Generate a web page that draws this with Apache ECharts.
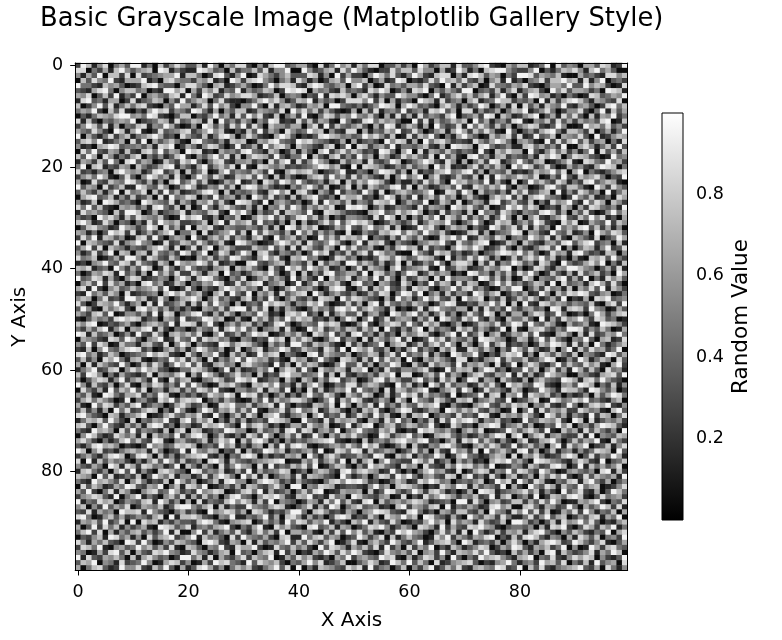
<!DOCTYPE html>
<html><head><meta charset="utf-8">
<script src="https://cdn.jsdelivr.net/npm/echarts@6/dist/echarts.min.js"></script>
<style>html,body{margin:0;padding:0;background:#fff}#c{width:782px;height:640px}</style>
</head><body><div id="c"></div>
<script>
// Grey levels, one row per string (row 0 = top), one digit per column: 0 = black ... 9 = white.
// NOTE: the reference is a 100x100 random-noise image at about 5 px per cell. These digits were NOT
// transcribed cell by cell from it. They are hand-typed estimates that only copy its overall texture and
// value spread; individual cells do not match the reference pixels.
const gridRows = [
"2971580463 9914072586 3371950648 8205179934 6620814957 1748803362 5096247718 3358921064 7712490835 4066387129",
"8804261795 3567098142 1198634072 4473815590 0952367184 9631022847 7385506129 6140789953 2259031476 8517946300",
"5163907728 0823456691 7740289315 9018642573 3387150926 2205974831 4962178805 1897365042 9983654710 0634218857",
"0738549216 6691307854 4265813097 2789530461 8514026739 5570361298 0213849674 8326057191 3045827796 7181590342",
"9442175630 1278943305 8853067124 6301495887 2179843560 7926018453 6648320917 2570184436 5821036649 3395762018",
"3216894057 7450219968 0627581439 1534760298 9806452173 4318697025 1879053642 9903427158 1467209583 6652409871",
"6580372914 2905643781 9419723856 8861237045 4032918786 0684153397 5520491368 4736815920 7298561304 2018734659",
"1893416602 8134760529 3576048211 0247968513 7691534028 8859270614 3097618245 0681349772 4350917268 9741653280",
"7025938147 4782105396 6148395720 5593081674 1265709943 2413598706 9734206851 5249703618 0836175492 1563028947",
"4659207381 0316978254 2984160537 7126543809 5847263101 6072814539 2451879360 8815236047 6913584025 5820491736",
"0314765899 5649821037 7032594618 3958217046 2910487365 9547306182 6183542790 3462980751 2579036184 8307165924",
"8172043565 9023476183 4761809352 6405398121 8372651094 1289475630 0928163475 7093614528 9105472836 2645389017",
"2597381604 3781549620 1509736284 9284075536 6058192743 5730629814 7516094238 1948527360 4687213950 0196748352",
"6438520971 6910283457 8246957103 1739264085 3496705218 8061437592 3840257169 6274851093 0352689417 7528036149",
"9063148257 1457962308 5327148960 4852106973 0213897645 3496852701 8275930416 9530174682 8129347065 4830912576",
"3785912460 8290635741 0894325176 7016589432 9785431260 6134209587 1609478523 2185369740 5641092837 9372560418",
"5120679834 4536187902 6415873029 2361947850 7542168039 0872563914 4357216098 7608942351 1784635290 0685147293",
"0849326517 2178493650 9781206453 8943175026 1630792584 7523198406 9081653742 4319207586 6093158472 5149083627",
"7396085142 6804251379 2053694817 0587629314 4907316825 2946075138 5742809361 0893516724 3251869704 8763201945",
"1652739408 9365017428 6930478215 5624083791 8259640173 5618324970 2469731850 6047298135 9426701358 1087439562",
"4907813265 0742368915 3169257480 9108754623 2346985710 9087641253 7356094812 1582637409 5972483016 3521698704",
"8231450796 5613892470 7248016935 4375291068 6784023591 1430598726 0813267945 8926054371 2137569480 6904213578",
"2574961038 3059746182 0496385127 6839407152 0157839462 8364217059 4690582137 3270819645 8648015293 1756840329",
"6018327549 8426150793 5837102649 1250863974 9423516807 3759862041 1528473096 7453916208 0395742861 4289357610",
"9365082471 1974385026 9612548370 7984631205 3695270148 0617534892 8074125639 2186475930 6501389427 7410962853",
"3742615908 4580729361 2358960714 3462179580 7830641925 4295180367 5346901872 9607342518 4823670915 2863509147",
"0689347152 7236081945 8704293561 5096382417 1579324086 6823049715 2915738460 4731058692 7168954302 9537124086",
"5127098634 2097543816 4165837209 8731905642 4028195637 1542876903 6439027518 0365189247 3270418569 3194860752",
"8493721065 6351894270 7029416853 2617054839 6264758019 8970361254 3182654097 5842701396 9486023175 0628743519",
"1856430729 9702613458 1543782096 9405238176 5391087642 2106793485 7960318254 1709452863 1543897260 6382015947",
"4230968517 3865472019 6892150437 0158693724 8947260315 5431829706 0527491863 8263714950 7058214693 2749581306",
"7961285043 0418396572 2347069185 6829341507 0612584937 9785013642 4814765930 3594028671 4639721085 8016439275",
"0378541296 5249708361 9076821543 3542617098 3758012649 3269458170 1296830475 6042197358 2817350946 4893726150",
"6514039782 8136257904 4708135692 7093854261 9472635108 0153276894 8639547201 2781603459 8065219437 1250964873",
"2849176350 1782930465 0931574826 4168209357 2501947386 7590431628 5372018694 9127538604 5396481720 7531802496",
"9076432815 6954018237 6385247109 8530126974 7184359620 4917682053 2045769318 4368901275 0742156389 3689245071",
"3692807541 4325796180 3816905742 2275493618 1863275094 8346105279 6718243059 7596124830 6214783905 0476159238",
"5138259076 0671843529 7259038614 9607831542 5039681427 2682974510 0953186724 1250347986 9473028561 8942317605",
"8457013629 9518632740 1064725398 4316958207 6945102873 5021387496 3487620915 3849615027 2685947130 5107683942",
"1205694387 2843175096 5697381240 0893246715 4270836519 9475261380 7125394068 8607281549 7351862094 2368590417",
"7681340952 6397028415 9423156807 5742083196 8396471250 3817540692 4568109237 6123754890 4028731659 9754036281",
"4026587193 5160947382 2851670934 1367594028 0715289346 6290873514 9813746502 0984516372 8594027316 1835724096",
"9348716205 8712354069 6179842053 8025736419 2631907458 1563928407 2376081945 5419837260 1860543792 6290418573",
"0573928461 3089461275 0436597128 3689145702 9148365720 7934065218 5042937618 2760159483 5247619083 4517962830",
"6819205734 7456839102 8304216975 7451830269 4563027981 0481759326 1867204593 7835201649 9036284517 0648391752",
"2194637508 1234507968 3572068194 2906471835 7809514632 5126387049 8390461725 4197368025 3612950748 7983256014",
"5760482319 9571284036 7960483521 6815293047 3251876094 8753206194 6149583270 9568042713 7485136290 2160879345",
"8302765941 4608192357 1728395406 0342968751 5486930127 2607918435 3754026981 1326594807 0921874653 5437106829",
"3951074682 0895736241 4106537289 9273805164 1037452896 9368541702 0281795436 6071835294 2563409817 8729540163",
"6427839015 5362918704 5893162740 4539612078 6924081573 3815620974 7936148250 3842970516 6158723940 1304962578",
"1036452897 8713406529 2349857016 1084726395 8672315049 7049138256 5163809742 8593162074 4730916285 6952873401",
"7589013246 2046753918 8715920463 6725138940 2543968710 1592046873 9428571036 0137648259 8294375106 3461098752",
"4263791580 6589172043 0264381795 9360457182 0195824637 6274809315 2690735418 5726413908 1067842539 9825374016",
"9817346025 1932840675 7481059236 2597801364 7308649251 8935162407 4587203691 9248057136 5839210674 0718236594",
"0654218739 7305691284 3928674510 5413296807 4861037925 4081753692 8013958264 3619875402 7615938420 5493067128",
"5392860174 4167328059 6053219847 8742063519 9427563108 2613490578 1372684950 7405926813 2402759861 8260941357",
"2170594368 9824015736 1597436028 0368145972 3754186290 9758326041 6925307481 1863740529 6384127059 1738562490",
"8946137502 3459687210 8416592073 6129578043 1089275436 0347615829 3548162097 4592031687 9150863742 7054219836",
"3725086941 6710243958 2740815369 3975624108 5613942087 5172938460 9206475318 8031569274 4723698015 2961475083",
"6081753294 0273851496 9382167450 7854319260 8476201593 3826054971 0731846529 2657408139 0586214937 4385710692",
"1469237805 8596732014 4875203916 1236490587 2930854761 7690418325 5468201937 6715982403 3947058261 9627308451",
"7298504163 2138065479 0629741358 4507132896 6345917082 1435276908 8015739264 0478326591 8261397540 0542167839",
"4036871592 5741920836 7104586239 8691245073 0751638924 6014893752 2693518470 3981650742 1605743298 6178495320",
"9517326048 1064873529 3952017684 2076859341 7269501438 8257631094 7140962835 5127483096 7439821056 3986042715",
"0842619375 9380451672 6387492105 5348176290 4082713659 2943508176 3579104682 9602845317 5023964187 7419853602",
"5371098426 6825397104 2413865970 9782503614 1594386207 5386027149 6827453190 2349178065 9186572403 1250736984",
"2684753019 0452186937 8790352641 0163927458 8630259174 9721364085 0954286317 6814573290 2368019745 8693421570",
"6109487253 7913540268 5236018794 4725681930 3217648095 0648193527 4386791052 1057932648 6705482139 4037869215",
"3725160948 2368704195 1049726583 7391045826 9458137620 4175820369 8213650974 7583264019 0491836572 2864510793",
"8953207614 5790126843 6582193047 2850679314 5706924381 3852947106 1769035428 3429810756 4852097361 5319276048",
"1476839520 8043659217 9375804162 6134298750 0943182756 7206518493 5042718396 8961547230 1934765820 9708135462",
"7830594216 3617982405 4128679530 9478513026 6285470139 1589036724 7634920185 2306798145 7260143958 0452698731",
"4219675083 9254317068 0761243985 5027346189 2871563904 6943275810 2197854630 5748012396 3685291074 6183742509",
"0597312864 6180745392 5896037214 1862950473 8129406375 8430197256 9350167842 4125369807 9047815632 2819054376",
"6852041379 4732981056 3247158690 7389614052 4356789210 2071453689 6589230471 8693741520 5812679403 7365910842",
"3148967502 1029563487 8603429571 4156072938 9710235648 5396820147 0721548963 1057486239 2473506918 4690237158",
"9705823146 7561840239 1954760328 0623985714 3562901874 9817346502 4836072195 6280935741 8926037145 1524876093",
"2463158970 3896072514 6789215043 8970413265 7094168523 3642981075 8153496027 9431257608 0658412379 7038254961",
"8091736452 0415839627 2350896174 3245678901 1648257390 7168059432 2974813506 3512068794 6309875421 5862190347",
"5326409718 6287451390 7416308259 6508192437 5839014762 0529674318 5608321749 7846390125 4175238960 2917463580",
"1784250693 9152078643 0983547126 2916345870 2405763189 4786512930 3047956218 0268715493 8742963015 6435089172",
"7650938124 2703964815 5138269740 9481703562 8176532094 1350487296 9415632870 6924183057 1360748592 0283754619",
"4219675380 5841327096 3602471895 5037986241 6321047859 8962301475 1286974503 4357029681 9528610437 8179426035",
"0837512649 8326590471 8749013526 1763258409 9054876123 3215946078 7530218649 8173542906 2095386174 3946701258",
"6392048175 1057834962 4295687013 7849162350 4738901265 5607139842 4962785130 2609871345 6847152093 5821603974",
"2568731904 6914205738 1627350489 4305879621 7692318450 9743256018 0318469752 5472391680 3519027648 9710384562",
"9143867025 4378196250 6081432795 8617290543 0265184937 2189073564 6875123409 9184056237 7263849501 1657920438",
"5705293648 0265471389 9536807142 2954368710 3581629704 6834512079 2653780914 3641289570 0784165239 4063597281",
"3281645097 7819532046 2410956873 6087413259 9407852316 4056987321 8941306527 7326095418 5938270164 8295143706",
"8940157362 3542680917 7863205491 1435926078 5162403897 1327408659 5709843162 0953762841 1482593670 2537816490",
"1657392480 9086714253 3279841056 7802635194 8736591420 7591632840 1326957084 6518423709 9624037185 6948302157",
"6039284715 2461098735 8145367920 4269108573 2089347165 0248795136 4087519263 2879651034 4350618792 0386275914",
"4792806153 6735249180 0592714638 3158472906 6451072839 5836104297 9652048371 8094137265 7168942053 7521439068",
"0325719846 1508367924 6917453082 9543620781 1947836502 3962580714 7430185926 4265890317 2897315406 1863704529",
"8516473209 8294015376 4308972165 0817354692 7385269014 8105742963 2591367840 9713426058 5041689723 9742581036",
"2874910563 4957362810 7630549218 6692018437 4620938751 6473819250 8264903175 1358702649 8316572490 5019627843",
"5401628937 0632879541 2854136709 3405781926 0216497385 9721038546 3805629417 6584931207 3625089174 2358164970",
"9183265740 7168534029 9471806325 8275490163 8572130649 2564397810 6148725093 0429678531 6790438215 8687052139",
"3769054182 3495016872 5016297843 1938657204 3695812470 0358612974 9374081256 7830215694 1452967380 4271935608",
"6047831295 5821749306 1389625047 5721469380 9041765328 6819245037 0526913748 2167549823 9073821456 7932608415"
];
const xCategories = gridRows[0].replace(/\s/g, '').split('').map((_, i) => String(i));
const yCategories = gridRows.map((_, i) => String(i));
const axisTickValues = [0, 20, 40, 60, 80];
const colorbarTicks = [0.2, 0.4, 0.6, 0.8];
const valueRange = [0, 1];

const heatData = [];
gridRows.forEach((row, y) => {
  const s = row.replace(/\s/g, '');
  for (let x = 0; x < s.length; x++) {
    heatData.push([x, y, (s.charCodeAt(x) - 48 + 0.5) / 10]);
  }
});

const FONT = 'DejaVu Sans';
const showTick = (i) => axisTickValues.indexOf(i) >= 0;
const black = '#000000';

const chart = echarts.init(document.getElementById('c'), null, {renderer: 'canvas'});
chart.setOption({
  animation: false,
  backgroundColor: '#ffffff',
  textStyle: {fontFamily: FONT, color: black},
  title: {
    text: 'Basic Grayscale Image (Matplotlib Gallery Style)',
    left: 35, top: 1,
    textStyle: {fontFamily: FONT, fontSize: 25.8, fontWeight: 'normal', color: black}
  },
  grid: [
    {left: 75.2, top: 63, width: 552.5, height: 507.5},
    {left: 662, top: 113, width: 21, height: 407}
  ],
  visualMap: {
    type: 'continuous', show: false, min: valueRange[0], max: valueRange[1],
    dimension: 2, seriesIndex: 0, inRange: {color: ['#000000', '#ffffff']}
  },
  xAxis: [
    {
      type: 'category', gridIndex: 0, data: xCategories, position: 'bottom', z: 10,
      name: 'X Axis', nameLocation: 'middle', nameGap: 40,
      nameTextStyle: {fontFamily: FONT, fontSize: 20, color: black},
      axisLine: {show: true, lineStyle: {color: black, width: 1}},
      axisTick: {show: true, alignWithLabel: true, interval: showTick, length: 5, lineStyle: {color: black}},
      axisLabel: {show: true, interval: showTick, fontFamily: FONT, fontSize: 17.5, color: black, margin: 13},
      splitLine: {show: false}
    },
    {
      type: 'category', gridIndex: 0, data: xCategories, position: 'top', z: 10,
      axisLine: {show: true, lineStyle: {color: black, width: 1}},
      axisTick: {show: false}, axisLabel: {show: false}, splitLine: {show: false}
    },
    {type: 'value', gridIndex: 1, min: 0, max: 1, show: false}
  ],
  yAxis: [
    {
      type: 'category', gridIndex: 0, data: yCategories, inverse: true, position: 'left', z: 10,
      name: 'Y Axis', nameLocation: 'middle', nameGap: 43, nameRotate: 90,
      nameTextStyle: {fontFamily: FONT, fontSize: 20, color: black},
      axisLine: {show: true, lineStyle: {color: black, width: 1}},
      axisTick: {show: true, alignWithLabel: true, interval: showTick, length: 5, lineStyle: {color: black}},
      axisLabel: {show: true, interval: showTick, fontFamily: FONT, fontSize: 17.5, color: black, margin: 12},
      splitLine: {show: false}
    },
    {
      type: 'category', gridIndex: 0, data: yCategories, inverse: true, position: 'right', z: 10,
      axisLine: {show: true, lineStyle: {color: black, width: 1}},
      axisTick: {show: false}, axisLabel: {show: false}, splitLine: {show: false}
    },
    {
      type: 'value', gridIndex: 1, min: valueRange[0], max: valueRange[1], position: 'right',
      name: 'Random Value', nameLocation: 'middle', nameGap: 47, nameRotate: 90,
      nameTextStyle: {fontFamily: FONT, fontSize: 21.5, color: black},
      axisLine: {show: false},
      axisTick: {show: true, length: 5, customValues: colorbarTicks, lineStyle: {color: black}},
      axisLabel: {show: true, customValues: colorbarTicks, formatter: (v) => Number(v).toFixed(1),
                  fontFamily: FONT, fontSize: 17.5, color: black, margin: 13},
      splitLine: {show: false}
    }
  ],
  series: [
    {
      type: 'heatmap', xAxisIndex: 0, yAxisIndex: 0, data: heatData,
      progressive: 0, silent: true, itemStyle: {borderWidth: 0}, emphasis: {disabled: true}
    },
    {
      type: 'custom', xAxisIndex: 2, yAxisIndex: 2, silent: true, z: 5,
      data: [[valueRange[0], valueRange[0], valueRange[1], valueRange[1]]],
      renderItem: (params, api) => {
        const p0 = api.coord([api.value(0), api.value(3)]);
        const p1 = api.coord([api.value(2), api.value(1)]);
        return {
          type: 'rect',
          shape: {x: p0[0], y: p0[1], width: p1[0] - p0[0], height: p1[1] - p0[1]},
          style: {
            fill: new echarts.graphic.LinearGradient(0, 0, 0, 1, [
              {offset: 0, color: '#ffffff'}, {offset: 1, color: '#000000'}
            ]),
            stroke: black, lineWidth: 1
          }
        };
      }
    }
  ]
});
</script>
</body></html>
